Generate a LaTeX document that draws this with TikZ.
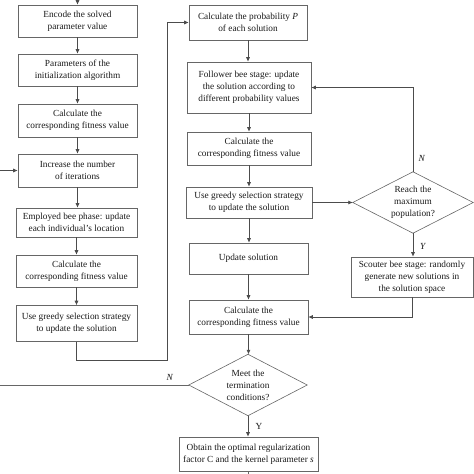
\documentclass[tikz,border=0pt]{standalone}
\usepackage{fontspec}
\setmainfont{Liberation Serif}
\usetikzlibrary{arrows.meta}
\begin{document}
\begin{tikzpicture}[x=1pt,y=-1pt,
  box/.style={draw=black!60, line width=0.6pt, align=center, inner sep=1pt,
    font=\fontsize{9.3}{11.9}\selectfont, text=black!90},
  dia/.style={align=center, inner sep=0pt, font=\fontsize{9.3}{11.9}\selectfont, text=black!90},
  dline/.style={draw=black!60, line width=0.6pt},
  arr/.style={-{Latex[length=4.5pt,width=4pt]}, line width=0.6pt, draw=black!70},
  ln/.style={line width=0.6pt, draw=black!60},
  lab/.style={font=\fontsize{9.3}{11}\selectfont, text=black!90}]
\useasboundingbox (0,0) rectangle (474,474);
% left column
\node[box, minimum width=119pt, minimum height=32pt] (b1) at (77.5,21) {Encode the solved\\parameter value};
\node[box, minimum width=119pt, minimum height=32pt] (b2) at (77.5,70) {Parameters of the\\initialization algorithm};
\node[box, minimum width=119pt, minimum height=33pt] (b3) at (77.5,120.5) {Calculate the\\corresponding fitness value};
\node[box, minimum width=119pt, minimum height=33pt] (b4) at (77.5,170.5) {Increase the number\\of iterations};
\node[box, minimum width=121pt, minimum height=29pt] (b5) at (76.5,222.5) {Employed bee phase: update\\each individual's location};
\node[box, minimum width=121pt, minimum height=32pt] (b6) at (76.5,271) {Calculate the\\corresponding fitness value};
\node[box, minimum width=121pt, minimum height=36pt] (b7) at (76.5,323.5) {Use greedy selection strategy\\to update the solution};
% middle column
\node[box, minimum width=118pt, minimum height=35pt] (m1) at (248,22.5) {Calculate the probability \textit{P}\\of each solution};
\node[box, minimum width=124pt, minimum height=51pt] (m2) at (249,87.5) {Follower bee stage: update\\the solution according to\\different probability values};
\node[box, minimum width=124pt, minimum height=33pt] (m3) at (249,148.5) {Calculate the\\corresponding fitness value};
\node[box, minimum width=126pt, minimum height=31pt] (m4) at (249,202.5) {Use greedy selection strategy\\to update the solution};
\node[box, minimum width=119pt, minimum height=31pt] (m5) at (248.5,258.5) {Update solution};
\node[box, minimum width=119pt, minimum height=34pt] (m6) at (248.5,317) {Calculate the\\corresponding fitness value};
\node[dia, minimum width=118pt, minimum height=61pt] (d2) at (248,385) {Meet the\\termination\\conditions?};
\draw[dline] (d2.north) -- (d2.east) -- (d2.south) -- (d2.west) -- cycle;
\node[box, minimum width=139pt, minimum height=34pt] (m7) at (248.5,454) {Obtain the optimal regularization\\factor C and the kernel parameter \textit{s}};
% right column
\node[dia, minimum width=120pt, minimum height=61pt] (d1) at (413,202.5) {Reach the\\maximum\\population?};
\draw[dline] (d1.north) -- (d1.east) -- (d1.south) -- (d1.west) -- cycle;
\node[box, minimum width=122pt, minimum height=40pt] (s1) at (412,277) {Scouter bee stage: randomly\\generate new solutions in\\the solution space};
% connectors
\coordinate (t0) at (77.5,0);
\coordinate (lin) at (0,170.5);
\coordinate (c1) at (167,360);
\coordinate (lout) at (0,385);
\coordinate (bot) at (248.5,474);
\draw[arr] (t0) -- (b1);
\draw[arr] (b1) -- (b2);
\draw[arr] (b2) -- (b3);
\draw[arr] (b3) -- (b4);
\draw[arr] (lin) -- (b4.west);
\draw[arr] (b4.south) -- (b4.south |- b5.north);
\draw[arr] (b5) -- (b6);
\draw[arr] (b6) -- (b7);
\draw[arr] (b7.south) |- (c1) |- (m1.west);
\draw[arr] (m1.south) -- (m1.south |- m2.north);
\draw[arr] (m2) -- (m3);
\draw[arr] (m3) -- (m4);
\draw[arr] (m4.south) -- (m4.south |- m5.north);
\draw[arr] (m5) -- (m6);
\draw[arr] (m6.south) -- (m6.south |- d2.north);
\draw[arr] (m4.east) -- (d1.west);
\draw[arr] (d1.north) |- (m2.east);
\node[lab] (n1) at (422,158) {\textit{N}};
\draw[arr] (d1.south) -- (d1.south |- s1.north);
\node[lab] (y1) at (423,246) {\textit{Y}};
\draw[arr] (s1.south) |- (m6.east);
\draw[ln] (d2.west) -- (lout);
\node[lab] (n2) at (170,377) {\textit{N}};
\draw[arr] (d2.south) -- (d2.south |- m7.north);
\node[lab] (y2) at (259,426) {Y};
\draw[ln] (m7.south) -- (bot);
\end{tikzpicture}
\end{document}
